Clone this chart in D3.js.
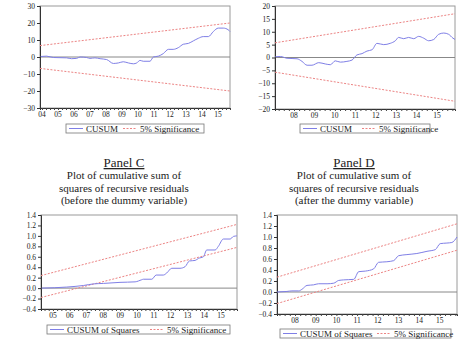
<!DOCTYPE html>
<html>
<head>
<meta charset="utf-8">
<script src="https://cdn.jsdelivr.net/npm/d3@7"></script>
<style>
body { margin: 0; background: #fff; }
text { font-family: "Liberation Serif", "Times New Roman", serif; fill: #222; }
</style>
</head>
<body>
<script>
// panel A: CUSUM before the dummy
let cusumADates = [2003.92,2004.29,2004.71,2005.54,2005.85,2006.17,2006.38,2006.79,2007.0,2007.31,2007.63,2008.04,2008.46,2008.77,2009.08,2009.4,2009.71,2009.92,2010.13,2010.33,2010.75,2010.96,2011.27,2011.58,2011.9,2012.2,2012.52,2012.83,2013.15,2013.46,2013.77,2014.08,2014.4,2014.71,2015.02,2015.33,2015.64,2015.75];
let cusumAValues = [0.3,0.5,-0.3,-0.5,-1.0,-0.8,0.0,-0.3,-0.8,-0.5,-1.0,-1.5,-3.8,-3.5,-2.8,-3.5,-4.0,-3.5,-2.0,-2.5,-2.5,0.0,0.5,2.0,4.5,4.5,5.5,7.5,8.0,9.5,11.0,12.0,12.0,15.0,17.0,17.0,16.0,15.0];
let sigADates = [2003.875, 2015.75];
let sigAUpper = [6.7, 20];
let sigALower = [-6.7, -20];

// panel B: CUSUM after the dummy
let cusumBDates = [2007.09,2007.33,2007.66,2008.15,2008.39,2008.64,2008.88,2009.21,2009.53,2009.78,2010.02,2010.27,2010.59,2010.84,2011.08,2011.33,2011.57,2011.82,2012.06,2012.39,2012.71,2012.96,2013.12,2013.37,2013.61,2013.86,2014.1,2014.35,2014.59,2014.84,2015.08,2015.33,2015.57,2015.78,2015.88];
let cusumBValues = [0.3,0.4,-0.3,-0.5,-1.5,-3.0,-3.0,-2.0,-2.5,-2.8,-1.3,-1.8,-1.5,-1.0,1.0,1.5,2.5,3.0,5.5,5.0,5.5,6.5,7.8,7.3,7.8,7.3,8.2,7.5,6.5,7.0,9.0,9.5,9.0,7.5,7.0];
let sigBDates = [2007.07, 2015.88];
let sigBUpper = [5.7, 17];
let sigBLower = [-5.7, -17];

// panel C: CUSUM of squares before the dummy
let sqCDates = [2004.33,2005.82,2006.81,2007.4,2008.0,2008.99,2009.89,2010.28,2010.38,2010.88,2011.14,2011.57,2011.77,2012.07,2012.56,2012.86,2013.12,2013.46,2013.66,2013.95,2014.15,2014.65,2014.84,2015.14,2015.54,2015.74,2015.94];
let sqCValues = [0.0,0.02,0.05,0.08,0.09,0.11,0.12,0.16,0.17,0.17,0.25,0.25,0.29,0.38,0.38,0.41,0.52,0.53,0.57,0.6,0.73,0.73,0.8,0.94,0.94,0.99,1.0];
let sigCDates = [2004.29, 2015.95];
let sigCUpper = [0.24, 1.22];
let sigCLower = [-0.18, 0.78];

// panel D: CUSUM of squares after the dummy
let sqDDates = [2007.13,2007.61,2007.85,2008.18,2008.34,2008.58,2008.9,2009.14,2009.55,2009.87,2010.11,2010.35,2010.84,2011.08,2011.4,2011.8,2012.04,2012.44,2012.77,2013.01,2013.41,2013.89,2014.38,2014.78,2015.02,2015.34,2015.58,2015.83];
let sqDValues = [0.0,0.01,0.02,0.02,0.05,0.12,0.13,0.15,0.15,0.16,0.21,0.22,0.23,0.37,0.38,0.42,0.54,0.55,0.57,0.66,0.68,0.7,0.74,0.77,0.88,0.89,0.9,1.0];
let sigDDates = [2007.13, 2015.83];
let sigDUpper = [0.27, 1.24];
let sigDLower = [-0.21, 0.76];

let yearsA = [2004,2005,2006,2007,2008,2009,2010,2011,2012,2013,2014,2015];
let yearsB = [2008,2009,2010,2011,2012,2013,2014,2015];
let yearsC = [2005,2006,2007,2008,2009,2010,2011,2012,2013,2014,2015];
let yearsD = [2008,2009,2010,2011,2012,2013,2014,2015];

let ticksA = [-30,-20,-10,0,10,20,30];
let ticksB = [-20,-15,-10,-5,0,5,10,15,20];
let ticksSq = [-0.4,-0.2,0.0,0.2,0.4,0.6,0.8,1.0,1.2,1.4];

let titleC = ["Plot of cumulative sum of", "squares of recursive residuals", "(before the dummy variable)"];
let titleD = ["Plot of cumulative sum of", "squares of recursive residuals", "(after the dummy variable)"];

let blue = "#7f7fe6";
let red = "#ec8484";

let svg = d3.select("body").append("svg").attr("width", 474).attr("height", 362)

let panels = [
  {l:40, r:230, t:6, b:108, x:[2003.875,2015.75], y:[-30,30], yt:ticksA, fmt:d3.format("d"), years:yearsA,
   dates:cusumADates, vals:cusumAValues, sd:sigADates, su:sigAUpper, sl:sigALower,
   leg:{x:66, y:124, w:138, h:9, split:54, a:"CUSUM"}},
  {l:275, r:455, t:6, b:109, x:[2007.07,2015.88], y:[-20,20], yt:ticksB, fmt:d3.format("d"), years:yearsB,
   dates:cusumBDates, vals:cusumBValues, sd:sigBDates, su:sigBUpper, sl:sigBLower,
   leg:{x:300, y:124, w:130, h:9, split:59, a:"CUSUM"}},
  {l:41, r:237, t:215, b:309, x:[2004.29,2015.95], y:[-0.4,1.4], yt:ticksSq, fmt:d3.format(".1f"), years:yearsC,
   dates:sqCDates, vals:sqCValues, sd:sigCDates, su:sigCUpper, sl:sigCLower,
   leg:{x:47, y:325, w:183, h:9, split:100, a:"CUSUM of Squares"}, title:"Panel C", sub:titleC, cx:124},
  {l:277, r:457, t:215, b:314, x:[2007.13,2015.83], y:[-0.4,1.4], yt:ticksSq, fmt:d3.format(".1f"), years:yearsD,
   dates:sqDDates, vals:sqDValues, sd:sigDDates, su:sigDUpper, sl:sigDLower,
   leg:{x:280, y:329, w:171, h:9, split:94, a:"CUSUM of Squares"}, title:"Panel D", sub:titleD, cx:354}
];

panels.forEach(p => {
  let x = d3.scaleLinear().domain(p.x).range([p.l, p.r]);
  let y = d3.scaleLinear().domain(p.y).range([p.b, p.t]);
  let g = svg.append("g");

  // frame
  g.append("rect").attr("x", p.l).attr("y", p.t).attr("width", p.r - p.l).attr("height", p.b - p.t)
    .attr("fill", "none").attr("stroke", "#9a9a9a").attr("stroke-width", 1);

  // zero line
  g.append("line").attr("x1", p.l).attr("x2", p.r).attr("y1", y(0)).attr("y2", y(0))
    .attr("stroke", "#888").attr("stroke-width", 1);

  // y axis
  let ya = d3.axisLeft(y).tickValues(p.yt).tickFormat(p.fmt).tickSize(3).tickPadding(2);
  g.append("g").attr("transform", "translate(" + p.l + ",0)").call(ya)
    .call(a => a.select(".domain").attr("stroke", "#333"))
    .call(a => a.selectAll("line").attr("stroke", "#333"))
    .call(a => a.selectAll("text").attr("font-size", 7.5).attr("fill", "#222"));

  // x axis, quarterly minor ticks
  let q = d3.range(Math.ceil(p.x[0] * 4), Math.floor(p.x[1] * 4) + 1).map(v => v / 4);
  g.append("g").attr("transform", "translate(0," + p.b + ")")
    .call(d3.axisBottom(x).tickValues(q).tickFormat("").tickSize(2))
    .call(a => a.select(".domain").attr("stroke", "#333"))
    .call(a => a.selectAll("line").attr("stroke", "#444"));
  g.append("g").selectAll("text").data(p.years).enter().append("text")
    .attr("x", d => x(d)).attr("y", p.b + 9)
    .attr("text-anchor", "middle").attr("font-size", 7.5)
    .text(d => String(d).slice(2));

  // significance bands
  let band = (vals) => d3.line().x((d, i) => x(p.sd[i])).y(d => y(d))(vals);
  [p.su, p.sl].forEach(v => {
    g.append("path").attr("d", band(v)).attr("fill", "none")
      .attr("stroke", red).attr("stroke-width", 1).attr("stroke-dasharray", "2,1.5");
  });

  // series
  let line = d3.line().x((d, i) => x(p.dates[i])).y(d => y(d)).curve(d3.curveMonotoneX);
  g.append("path").attr("d", line(p.vals)).attr("fill", "none")
    .attr("stroke", blue).attr("stroke-width", 1);

  // legend
  let L = p.leg;
  let lg = g.append("g").attr("transform", "translate(" + L.x + "," + L.y + ")");
  lg.append("rect").attr("width", L.w).attr("height", L.h).attr("fill", "#fff")
    .attr("stroke", "#777").attr("stroke-width", 0.8);
  lg.append("line").attr("x1", 3).attr("x2", 17).attr("y1", L.h / 2).attr("y2", L.h / 2)
    .attr("stroke", blue).attr("stroke-width", 1);
  lg.append("text").attr("x", 20).attr("y", L.h - 1.3).attr("font-size", 9).text(L.a);
  lg.append("line").attr("x1", L.split + 3).attr("x2", L.split + 16).attr("y1", L.h / 2).attr("y2", L.h / 2)
    .attr("stroke", red).attr("stroke-width", 1).attr("stroke-dasharray", "2,1.5");
  lg.append("text").attr("x", L.split + 20).attr("y", L.h - 1.3).attr("font-size", 9).text("5% Significance");

  // titles
  if (p.title) {
    g.append("text").attr("x", p.cx).attr("y", 167).attr("text-anchor", "middle")
      .attr("font-size", 13).attr("text-decoration", "underline").text(p.title);
    g.selectAll(".sub").data(p.sub).enter().append("text").attr("class", "sub")
      .attr("x", p.cx).attr("y", (d, i) => 179 + i * 12.5)
      .attr("text-anchor", "middle").attr("font-size", 11).text(d => d);
  }
});
</script>
</body>
</html>
